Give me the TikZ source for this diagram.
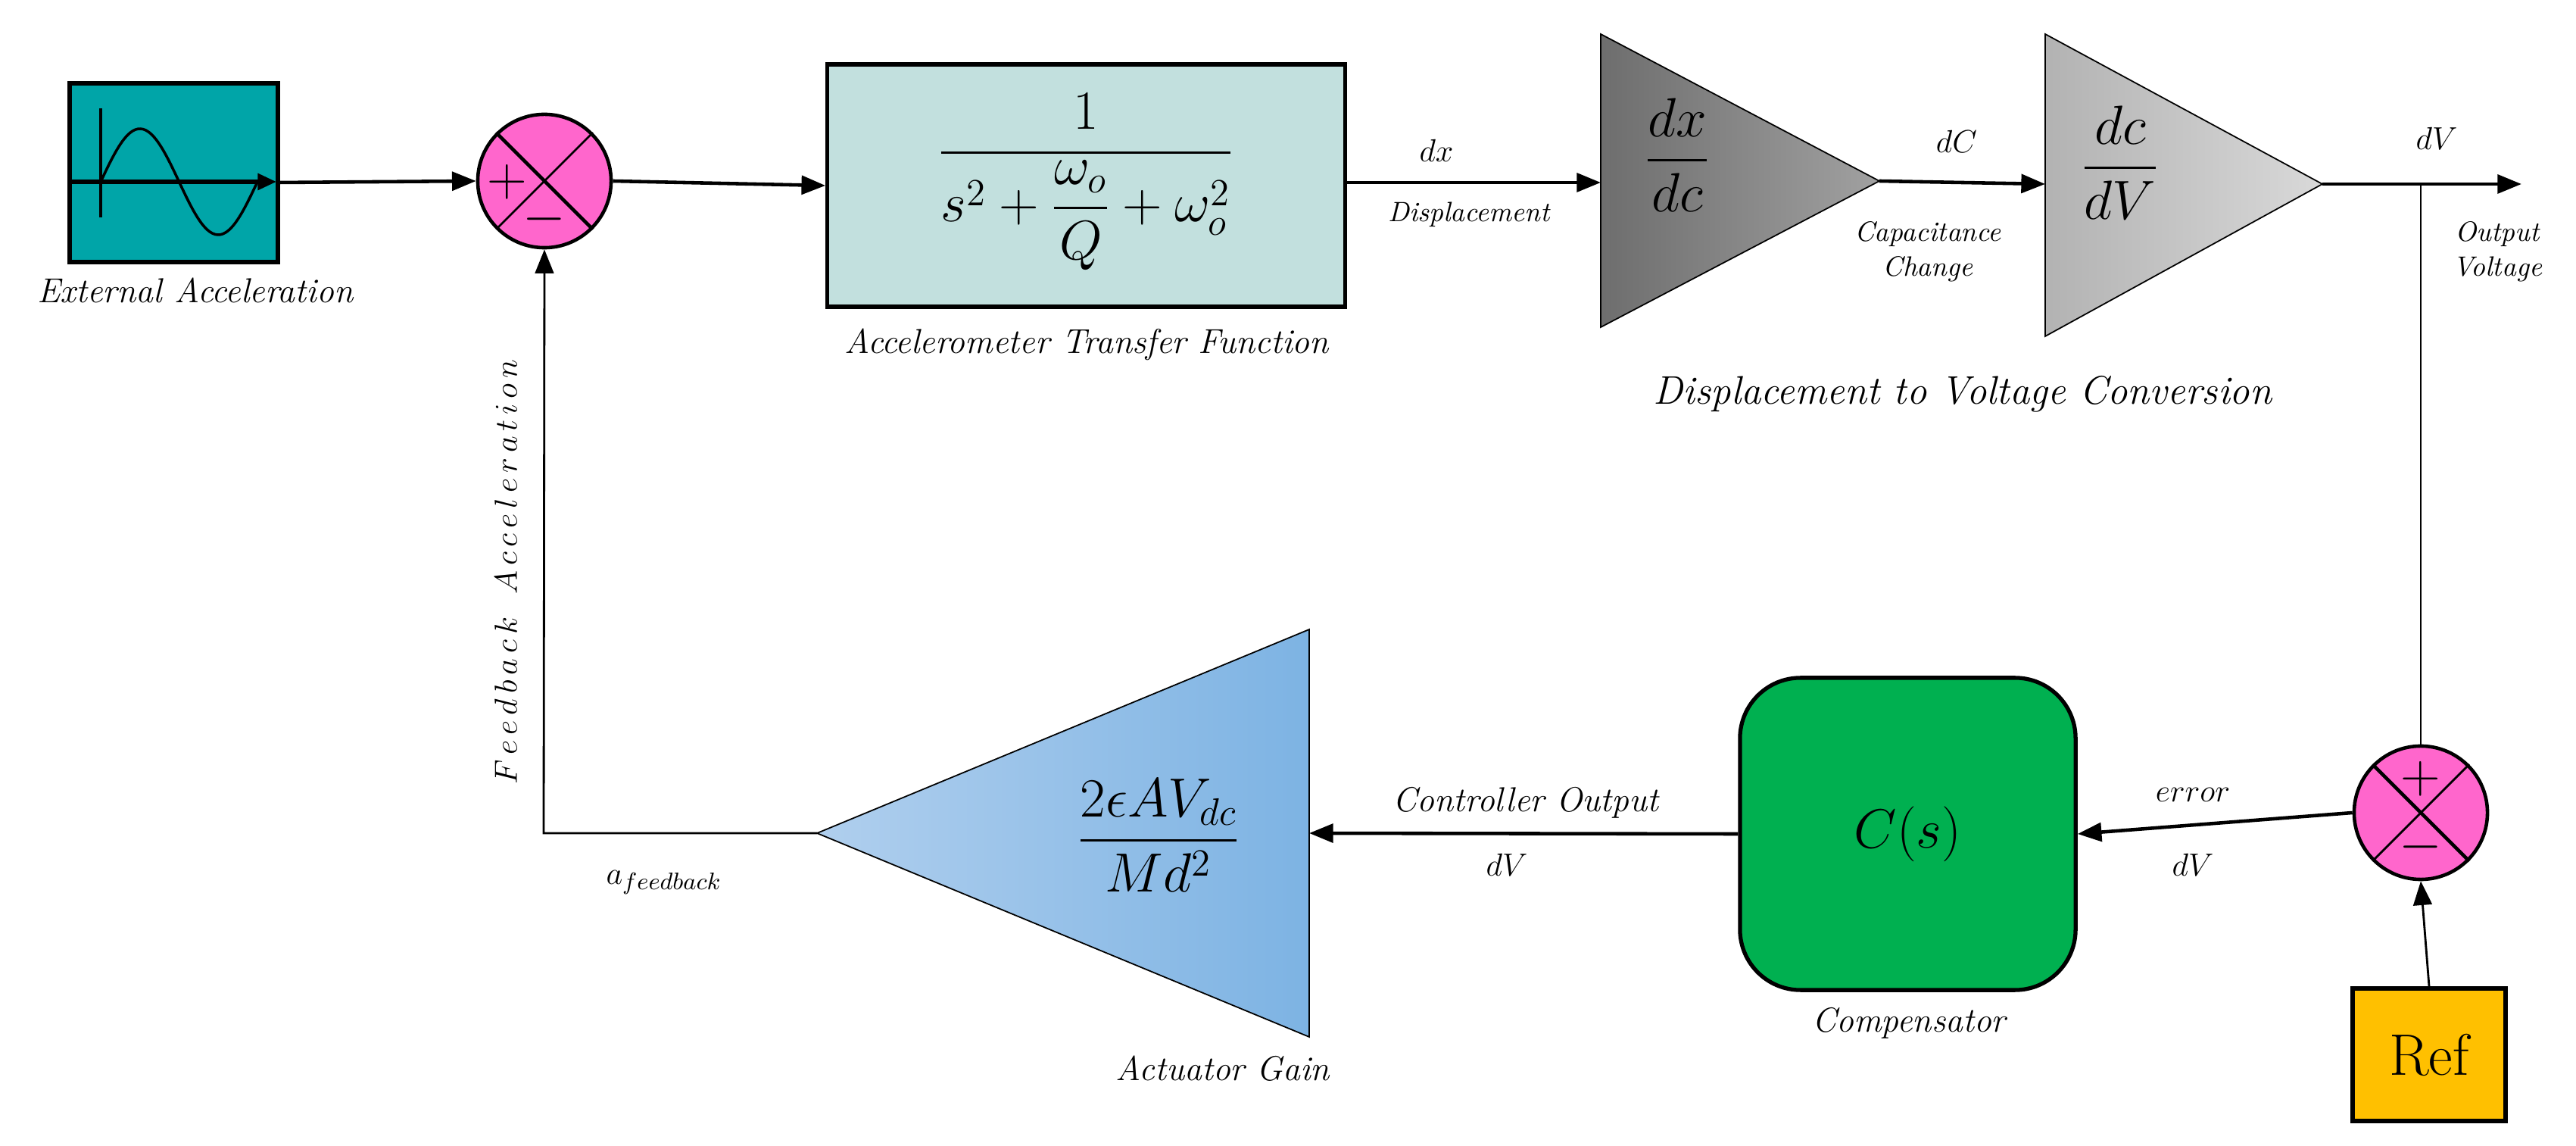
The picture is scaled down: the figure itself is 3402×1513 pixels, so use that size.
\documentclass[tikz,border=0pt]{standalone}
\usepackage{amsmath}
\usetikzlibrary{arrows.meta,shapes.geometric}
\begin{document}
\begin{tikzpicture}[x=0.01cm,y=-0.01cm,
  lbl/.style={font=\fontsize{13}{15}\selectfont\itshape, align=center},
  slbl/.style={font=\fontsize{10.5}{13}\selectfont\itshape, align=center},
  math/.style={font=\fontsize{20}{24}\selectfont},
  wire/.style={line width=1.3pt,-{Triangle[length=9pt,width=7pt]}},
  thin wire/.style={line width=0.8pt,-{Triangle[length=9pt,width=7pt]}},
  sum/.style={circle,draw,line width=1.3pt,fill=pinkc,minimum size=1.76cm,inner sep=0},
  block/.style={draw,line width=1.5pt}]
\definecolor{tealc}{HTML}{00A5A8}
\definecolor{pinkc}{HTML}{FF66CC}
\definecolor{tfc}{HTML}{C2E0DE}
\definecolor{greenc}{HTML}{00B050}
\definecolor{refc}{HTML}{FFC000}
\useasboundingbox (0,0) rectangle (3402,1513);
% source
\node[block,fill=tealc,minimum width=2.75cm,minimum height=2.36cm,inner sep=0] (src) at (229.5,228) {};
\draw[line width=1pt] (133,143) -- (133,287);
\draw[line width=1.6pt,-{Triangle[length=7pt,width=6pt]}] (92,240) -- (365,240);
\draw[line width=1pt,domain=0:207,samples=60,smooth] plot ({133+\x},{240-70*sin(\x/207*360)});
\node[lbl] (srclbl) at (258,383) {External Acceleration};
% sum1
\node[sum] (s1) at (719,239) {};
\draw[line width=1.3pt] (s1.north west) -- (s1.south east);
\draw[line width=0.8pt] (s1.north east) -- (s1.south west);
\node[font=\fontsize{20}{20}\selectfont] at (670,240) {$+$};
\node[font=\fontsize{20}{20}\selectfont] at (719,289) {$-$};
% TF
\node[block,fill=tfc,minimum width=6.83cm,minimum height=3.2cm,inner sep=0] (tf) at (1434.5,245) {};
\node[math] at (1434,240) {$\dfrac{1}{s^2+\dfrac{\omega_o}{Q}+\omega_o^2}$};
\node[lbl] (tflbl) at (1435,455) {Accelerometer Transfer Function};
% triangles
\shade[left color=black!57,right color=black!37] (2114,45) -- (2482,239) -- (2114,432) -- cycle;
\draw[line width=0.5pt] (2114,45) -- (2482,239) -- (2114,432) -- cycle;
\coordinate (t1in) at (2114,241); \coordinate (t1out) at (2482,239);
\node[math] at (2215,205) {$\dfrac{dx}{dc}$};
\shade[left color=black!30,right color=black!15] (2701,45) -- (3067,243) -- (2701,444) -- cycle;
\draw[line width=0.5pt] (2701,45) -- (3067,243) -- (2701,444) -- cycle;
\coordinate (t2in) at (2701,243); \coordinate (t2out) at (3067,243);
\node[math] at (2800,215) {$\dfrac{dc}{dV}$};
\coordinate (outend) at (3330,243);
\coordinate (tap) at (3197,243);
% labels top
\node[lbl] at (1897,199) {$dx$};
\node[slbl] at (1940,283) {Displacement};
\node[lbl] at (2584,187) {$dC$};
\node[slbl] at (2546,332) {Capacitance\\Change};
\node[lbl] at (3218,183) {$dV$};
\node[slbl] at (3298,332) {Output\\Voltage};
\node[font=\fontsize{15}{18}\selectfont\itshape] at (2592,520) {Displacement to Voltage Conversion};
% bottom
\node[sum] (s2) at (3197,1073) {};
\draw[line width=1.3pt] (s2.north west) -- (s2.south east);
\draw[line width=0.8pt] (s2.north east) -- (s2.south west);
\node[font=\fontsize{20}{20}\selectfont] at (3197,1028) {$+$};
\node[font=\fontsize{20}{20}\selectfont] at (3197,1118) {$-$};
\node[block,fill=refc,minimum width=2.02cm,minimum height=1.75cm,inner sep=0] (ref) at (3208,1392.5) {\fontsize{22}{24}\selectfont Ref};
\node[block,fill=greenc,rounded corners=0.8cm,minimum width=4.43cm,minimum height=4.12cm,inner sep=0] (cs) at (2519.5,1101) {\fontsize{20}{24}\selectfont $C(s)$};
\shade[left color={rgb,255:red,176;green,207;blue,238},right color={rgb,255:red,125;green,179;blue,227}] (1079,1100) -- (1729,831) -- (1729,1369) -- cycle;
\draw[line width=0.5pt] (1079,1100) -- (1729,831) -- (1729,1369) -- cycle;
\coordinate (ain) at (1729,1100); \coordinate (aout) at (1079,1100);
\node[math] at (1530,1103) {$\dfrac{2\epsilon AV_{dc}}{Md^2}$};
\coordinate (corner) at (718,1100);
\node[lbl] at (2015,1060) {Controller Output};
\node[lbl] at (1990,1142) {$dV$};
\node[lbl] at (2896,1049) {$error$};
\node[lbl] at (2896,1142) {$dV$};
\node[lbl] at (2521,1351) {Compensator};
\node[lbl] at (1615,1411) {Actuator Gain};
\node[lbl] at (877,1165) {$a_{feedback}$};
\node[font=\fontsize{13}{15}\selectfont, rotate=90] at (668,755) {$F\,e\,e\,d\,b\,a\,c\,k\ \ A\,c\,c\,e\,l\,e\,r\,a\,t\,i\,o\,n$};
% connectors
\draw[wire] (367,241) -- (s1.west);
\draw[wire] (s1.east) -- (tf.west);
\draw[wire] (tf.east |- t1in) -- (t1in);
\draw[wire] (t1out) -- (t2in);
\draw[wire] (t2out) -- (outend);
\draw[line width=0.8pt] (tap) -- (s2.north);
\draw[thin wire] (ref.north) -- (s2.south);
\draw[wire] (s2.west) -- (cs.east);
\draw[wire] (cs.west) -- (ain);
\draw[thin wire] (aout) -- (corner) -- (s1.south);
\end{tikzpicture}
\end{document}
